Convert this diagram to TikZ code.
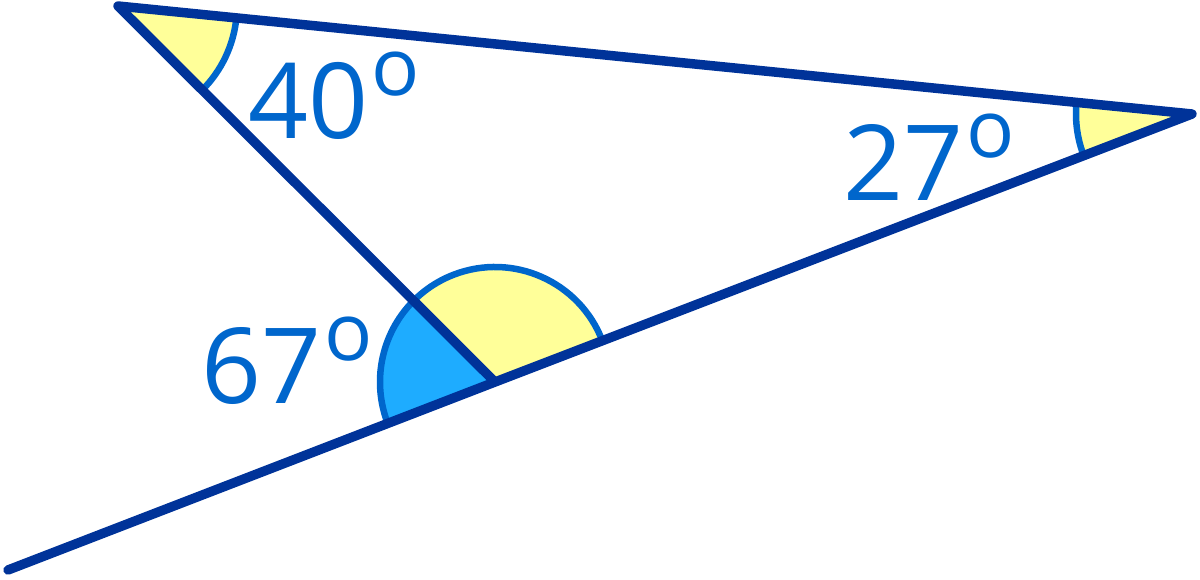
\documentclass[tikz,border=0pt]{standalone}
\usepackage{fontspec}
\setmainfont{Open Sans}
\usetikzlibrary{calc}
\definecolor{navyline}{RGB}{0,51,153}
\definecolor{arcblue}{RGB}{0,102,204}
\definecolor{fillyellow}{RGB}{255,255,153}
\definecolor{fillblue}{RGB}{30,172,255}
\definecolor{txtblue}{RGB}{0,102,204}
\newcommand{\deglabel}[1]{\fontsize{105}{105}\selectfont #1\kern3pt\raisebox{43pt}{\fontsize{80}{80}\selectfont o}}
\tikzset{
  mainline/.style={draw=navyline, line width=9.5pt, line cap=round, line join=round},
  arcline/.style={draw=arcblue, line width=6.5pt},
  anglabel/.style={text=txtblue, inner sep=0pt, anchor=base west},
}
\begin{document}
\begin{tikzpicture}[x=1pt,y=1pt]
\useasboundingbox (0,0) rectangle (1200,-579);
\coordinate (A) at (118,-6);
\coordinate (B) at (1192,-114);
\coordinate (C) at (495,-382);
\coordinate (D) at (8,-570);
% sectors at C
\fill[fillyellow] (C) -- ([shift={(21.03:115pt)}]C) arc[start angle=21.03, end angle=135.08, radius=115pt] -- cycle;
\fill[fillblue] (C) -- ([shift={(135.08:115pt)}]C) arc[start angle=135.08, end angle=201.1, radius=115pt] -- cycle;
\draw[arcline] ([shift={(21.03:115pt)}]C) arc[start angle=21.03, end angle=201.1, radius=115pt];
% sector at A
\fill[fillyellow] (A) -- ([shift={(-44.92:119pt)}]A) arc[start angle=-44.92, end angle=-5.74, radius=119pt] -- cycle;
\draw[arcline] ([shift={(-44.92:119pt)}]A) arc[start angle=-44.92, end angle=-5.74, radius=119pt];
% sector at B
\fill[fillyellow] (B) -- ([shift={(174.26:116pt)}]B) arc[start angle=174.26, end angle=201.03, radius=116pt] -- cycle;
\draw[arcline] ([shift={(174.26:116pt)}]B) arc[start angle=174.26, end angle=201.03, radius=116pt];
% lines
\draw[mainline] (D) -- (C) -- (B) -- (A) -- (C);
% labels
\node[anglabel] (l40) at (248,-138) {\deglabel{40}};
\node[anglabel] (l27) at (843,-200) {\deglabel{27}};
\node[anglabel] (l67) at (201,-403) {\deglabel{67}};
\end{tikzpicture}
\end{document}
